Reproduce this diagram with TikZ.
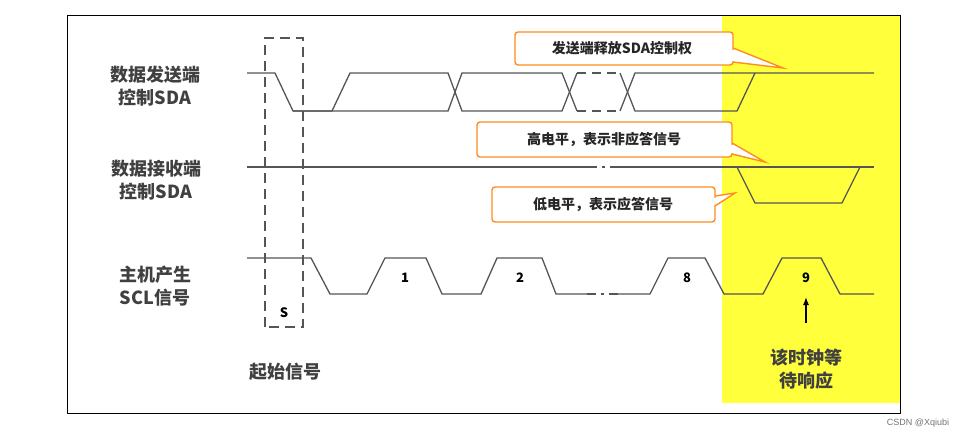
\documentclass[tikz,border=0pt]{standalone}
\usepackage{fontspec}
\setmainfont{Liberation Sans}
\newfontfamily\cjk{Noto Sans CJK SC}
\usetikzlibrary{arrows.meta}
\definecolor{callor}{RGB}{255,140,30}
\definecolor{wave}{RGB}{85,85,85}
\definecolor{hilite}{RGB}{255,255,60}
\begin{document}
\begin{tikzpicture}[x=1pt,y=-1pt,
  wv/.style={draw=wave,line width=1.3pt},
  lbl/.style={font=\cjk\bfseries\fontsize{18}{23}\selectfont,align=center,text=black!75},
  ctxt/.style={font=\cjk\bfseries\fontsize{14}{16}\selectfont,text=black!85},
  callout/.style={draw=callor,line width=1.4pt,fill=white,rounded corners=3pt},
  num/.style={font=\cjk\bfseries\fontsize{13}{14}\selectfont}]
\useasboundingbox (0,0) rectangle (965,439);
\fill[hilite] (722,15) rectangle (900,403);
\draw[line width=1pt] (67,15) rectangle (900,413);
% start box
\draw[wave,line width=1.2pt,dash pattern=on 10pt off 6pt] (265,327) -- (265,38) -- (303,38) -- (303,327) -- (265,327);
\node[num] (S) at (284,313) {S};
% SDA sender
\draw[wv] (247,73) -- (275,73) -- (293,111) -- (332,111) -- (350,73) -- (448,73) -- (462,111) -- (562,111) -- (577,73);
\draw[wv] (293,111) -- (448,111) -- (462,73) -- (562,73) -- (577,111);
\draw[wv,dash pattern=on 9pt off 6pt] (577,73) -- (620,73) (577,111) -- (620,111);
\draw[wv] (620,73) -- (635,111) -- (737,111) -- (755,73);
\draw[wv] (620,111) -- (635,73) -- (874,73);
% SDA receiver
\draw[wv] (247,167) -- (588,167);
\draw[wv,dash pattern=on 9pt off 5pt on 3pt off 5pt] (588,167) -- (618,167);
\draw[wv] (618,167) -- (874,167);
\draw[wv] (737,167) -- (755,203) -- (842,203) -- (860,167);
% SCL
\draw[wv] (247,258) -- (311,258) -- (330,294) -- (367,294) -- (385,258) -- (426,258) -- (442,294) -- (481,294) -- (497,258) -- (542,258) -- (556,294) -- (587,294);
\draw[wv,dash pattern=on 9pt off 5pt on 3pt off 5pt] (587,294) -- (618,294);
\draw[wv] (618,294) -- (650,294) -- (668,258) -- (705,258) -- (724,294) -- (763,294) -- (782,258) -- (821,258) -- (840,294) -- (874,294);
\node[num] (n1) at (405,278) {1};
\node[num] (n2) at (520,278) {2};
\node[num] (n8) at (687,278) {8};
\node[num] (n9) at (806,278) {9};
% left labels
\node[lbl] (l1) at (155,86) {数据发送端\\控制SDA};
\node[lbl] (l2) at (156,180) {数据接收端\\控制SDA};
\node[lbl] (l3) at (155,286) {主机产生\\SCL信号};
\node[lbl] (st) at (285,372) {起始信号};
\node[lbl] (wt) at (806,369) {该时钟等\\待响应};
\coordinate (atail) at (806,323);
\coordinate (ahead) at (806,297);
\draw[-{Latex[length=8pt,width=6pt]},line width=1.2pt] (atail) -- (ahead);
% callouts
\draw[callout,sharp corners] (733,48) -- (783,68) -- (733,62);
\draw[callout] (733,50) -- (733,32) -- (515,32) -- (515,65) -- (733,65) -- (733,61);
\fill[white] (731.5,51) rectangle (734.5,60);
\node[ctxt] (c1) at (622,48.5) {发送端释放SDA控制权};
\draw[callout,sharp corners] (732,143) -- (765,162) -- (732,154);
\draw[callout] (732,145) -- (732,122) -- (477,122) -- (477,157) -- (732,157) -- (732,153);
\fill[white] (730.5,146) rectangle (733.5,152);
\node[ctxt] (c2) at (604,139.5) {高电平，表示非应答信号};
\draw[callout,sharp corners] (715,196) -- (735,193) -- (715,206);
\draw[callout] (715,198) -- (715,187) -- (492,187) -- (492,222) -- (715,222) -- (715,205);
\fill[white] (713.5,198) rectangle (716.5,204);
\node[ctxt] (c3) at (603,204.5) {低电平，表示应答信号};
\node[font=\fontsize{9}{10}\selectfont,text=black!55] (wm) at (918,423) {CSDN @Xqiubi};
\end{tikzpicture}
\end{document}
